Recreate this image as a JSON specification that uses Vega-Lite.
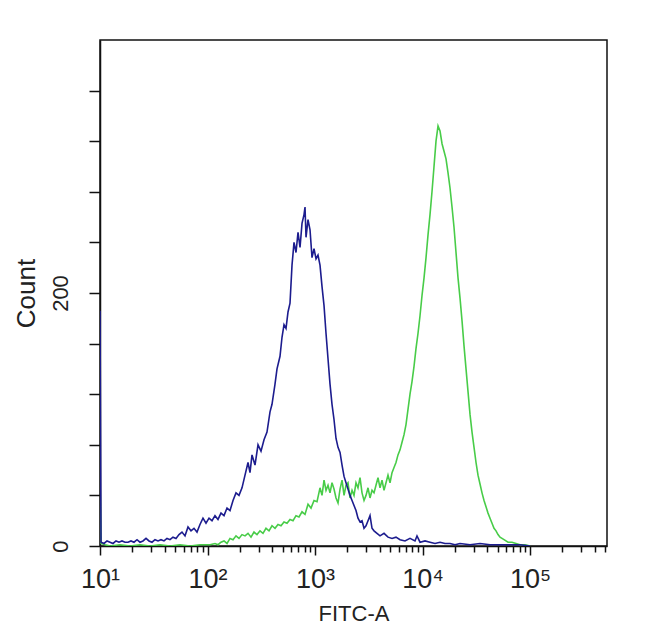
{
  "$schema": "https://vega.github.io/schema/vega-lite/v6.json",
  "autosize": "none",
  "padding": {"left": 100, "top": 40, "right": 43, "bottom": 92},
  "width": 507,
  "height": 506,
  "background": "white",
  "config": {
    "view": {"stroke": "#111", "strokeWidth": 1.5},
    "axis": {"labelFont": "Liberation Sans", "titleFont": "Liberation Sans", "labelColor": "#222", "titleColor": "#222", "domainColor": "#111", "tickColor": "#111", "domainWidth": 1.5, "tickWidth": 1.5, "grid": false, "titleFontWeight": "normal"}
  },
  "datasets": {
    "h": [
      {"s":"g","x":10,"y":55},{"s":"g","x":10.22,"y":2},{"s":"g","x":11.13,"y":1},{"s":"g","x":12.39,"y":0},{"s":"g","x":15.35,"y":1},{"s":"g","x":19.01,"y":0},{"s":"g","x":23.55,"y":1},{"s":"g","x":29.18,"y":0},{"s":"g","x":36.14,"y":1},{"s":"g","x":44.77,"y":0},{"s":"g","x":55.46,"y":1},{"s":"g","x":68.71,"y":0},{"s":"g","x":85.11,"y":1},{"s":"g","x":105.5,"y":1},{"s":"g","x":117.4,"y":2},{"s":"g","x":125.2,"y":1},{"s":"g","x":133.5,"y":3},{"s":"g","x":142.4,"y":4},{"s":"g","x":151.9,"y":2},{"s":"g","x":161.9,"y":6},{"s":"g","x":172.7,"y":5},{"s":"g","x":184.1,"y":8},{"s":"g","x":196.3,"y":6},{"s":"g","x":209.4,"y":9},{"s":"g","x":223.3,"y":8},{"s":"g","x":238.1,"y":10},{"s":"g","x":253.9,"y":7},{"s":"g","x":270.7,"y":11},{"s":"g","x":288.7,"y":9},{"s":"g","x":307.8,"y":12},{"s":"g","x":328.2,"y":10},{"s":"g","x":350.0,"y":14},{"s":"g","x":373.3,"y":12},{"s":"g","x":398.1,"y":16},{"s":"g","x":424.5,"y":14},{"s":"g","x":452.7,"y":17},{"s":"g","x":482.7,"y":16},{"s":"g","x":514.8,"y":19},{"s":"g","x":549.0,"y":18},{"s":"g","x":585.4,"y":21},{"s":"g","x":624.3,"y":20},{"s":"g","x":665.7,"y":24},{"s":"g","x":709.9,"y":23},{"s":"g","x":757.0,"y":27},{"s":"g","x":807.2,"y":25},{"s":"g","x":860.8,"y":33},{"s":"g","x":917.9,"y":30},{"s":"g","x":978.9,"y":36},{"s":"g","x":1044,"y":35},{"s":"g","x":1113,"y":46},{"s":"g","x":1162,"y":40},{"s":"g","x":1213,"y":52},{"s":"g","x":1266,"y":44},{"s":"g","x":1321,"y":48},{"s":"g","x":1379,"y":42},{"s":"g","x":1439,"y":50},{"s":"g","x":1502,"y":45},{"s":"g","x":1568,"y":38},{"s":"g","x":1637,"y":34},{"s":"g","x":1709,"y":45},{"s":"g","x":1784,"y":52},{"s":"g","x":1862,"y":40},{"s":"g","x":1942,"y":48},{"s":"g","x":2027,"y":50},{"s":"g","x":2117,"y":38},{"s":"g","x":2210,"y":44},{"s":"g","x":2306,"y":40},{"s":"g","x":2406,"y":50},{"s":"g","x":2511,"y":46},{"s":"g","x":2622,"y":54},{"s":"g","x":2737,"y":42},{"s":"g","x":2857,"y":36},{"s":"g","x":2981,"y":40},{"s":"g","x":3112,"y":46},{"s":"g","x":3248,"y":38},{"s":"g","x":3390,"y":44},{"s":"g","x":3539,"y":42},{"s":"g","x":3692,"y":48},{"s":"g","x":3854,"y":54},{"s":"g","x":4024,"y":46},{"s":"g","x":4200,"y":52},{"s":"g","x":4384,"y":44},{"s":"g","x":4574,"y":50},{"s":"g","x":4774,"y":56},{"s":"g","x":4986,"y":50},{"s":"g","x":5204,"y":58},{"s":"g","x":5432,"y":62},{"s":"g","x":5666,"y":66},{"s":"g","x":5914,"y":72},{"s":"g","x":6177,"y":76},{"s":"g","x":6447,"y":82},{"s":"g","x":6730,"y":88},{"s":"g","x":7020,"y":96},{"s":"g","x":7327,"y":108},{"s":"g","x":7650,"y":120},{"s":"g","x":7985,"y":130},{"s":"g","x":8335,"y":142},{"s":"g","x":8695,"y":156},{"s":"g","x":9076,"y":168},{"s":"g","x":9478,"y":182},{"s":"g","x":9893,"y":198},{"s":"g","x":10330,"y":212},{"s":"g","x":10780,"y":228},{"s":"g","x":11250,"y":246},{"s":"g","x":11740,"y":262},{"s":"g","x":12250,"y":280},{"s":"g","x":12790,"y":300},{"s":"g","x":13350,"y":320},{"s":"g","x":13940,"y":332},{"s":"g","x":14550,"y":328},{"s":"g","x":15190,"y":318},{"s":"g","x":15850,"y":312},{"s":"g","x":16540,"y":306},{"s":"g","x":17270,"y":295},{"s":"g","x":18020,"y":283},{"s":"g","x":18810,"y":268},{"s":"g","x":19630,"y":252},{"s":"g","x":20490,"y":232},{"s":"g","x":21390,"y":212},{"s":"g","x":22330,"y":196},{"s":"g","x":23310,"y":178},{"s":"g","x":24330,"y":158},{"s":"g","x":25390,"y":140},{"s":"g","x":26500,"y":122},{"s":"g","x":27660,"y":104},{"s":"g","x":28870,"y":90},{"s":"g","x":30140,"y":78},{"s":"g","x":31450,"y":66},{"s":"g","x":32820,"y":56},{"s":"g","x":34260,"y":49},{"s":"g","x":35760,"y":42},{"s":"g","x":37330,"y":36},{"s":"g","x":38970,"y":31},{"s":"g","x":40670,"y":26},{"s":"g","x":42450,"y":22},{"s":"g","x":44310,"y":18},{"s":"g","x":46250,"y":14},{"s":"g","x":48270,"y":12},{"s":"g","x":50390,"y":9},{"s":"g","x":52600,"y":7},{"s":"g","x":57310,"y":5},{"s":"g","x":62430,"y":3},{"s":"g","x":68010,"y":3},{"s":"g","x":74100,"y":2},{"s":"g","x":80720,"y":1},{"s":"g","x":89850,"y":1},{"s":"g","x":100000,"y":0},
      {"s":"b","x":10,"y":186},{"s":"b","x":10.22,"y":3},{"s":"b","x":10.9,"y":2},{"s":"b","x":11.62,"y":4},{"s":"b","x":12.39,"y":3},{"s":"b","x":13.21,"y":2},{"s":"b","x":14.09,"y":4},{"s":"b","x":15.02,"y":3},{"s":"b","x":16.02,"y":4},{"s":"b","x":17.09,"y":3},{"s":"b","x":18.22,"y":3},{"s":"b","x":19.42,"y":4},{"s":"b","x":20.71,"y":3},{"s":"b","x":22.10,"y":5},{"s":"b","x":23.55,"y":3},{"s":"b","x":25.11,"y":4},{"s":"b","x":26.79,"y":6},{"s":"b","x":28.57,"y":4},{"s":"b","x":30.46,"y":3},{"s":"b","x":32.48,"y":5},{"s":"b","x":34.64,"y":4},{"s":"b","x":36.92,"y":5},{"s":"b","x":39.38,"y":4},{"s":"b","x":42.0,"y":6},{"s":"b","x":44.77,"y":5},{"s":"b","x":47.74,"y":7},{"s":"b","x":50.94,"y":6},{"s":"b","x":54.32,"y":9},{"s":"b","x":57.89,"y":11},{"s":"b","x":61.77,"y":8},{"s":"b","x":65.87,"y":15},{"s":"b","x":70.2,"y":12},{"s":"b","x":74.86,"y":14},{"s":"b","x":79.85,"y":11},{"s":"b","x":85.11,"y":17},{"s":"b","x":90.76,"y":22},{"s":"b","x":96.83,"y":18},{"s":"b","x":103.3,"y":22},{"s":"b","x":110.1,"y":20},{"s":"b","x":117.4,"y":24},{"s":"b","x":125.2,"y":21},{"s":"b","x":133.5,"y":26},{"s":"b","x":142.4,"y":24},{"s":"b","x":151.9,"y":30},{"s":"b","x":161.9,"y":28},{"s":"b","x":172.7,"y":36},{"s":"b","x":184.1,"y":42},{"s":"b","x":196.3,"y":40},{"s":"b","x":209.4,"y":46},{"s":"b","x":223.3,"y":56},{"s":"b","x":238.1,"y":66},{"s":"b","x":248.5,"y":58},{"s":"b","x":259.4,"y":72},{"s":"b","x":276.6,"y":64},{"s":"b","x":295.0,"y":80},{"s":"b","x":314.5,"y":75},{"s":"b","x":335.4,"y":84},{"s":"b","x":357.6,"y":90},{"s":"b","x":381.4,"y":106},{"s":"b","x":398.1,"y":112},{"s":"b","x":424.5,"y":128},{"s":"b","x":443.1,"y":140},{"s":"b","x":472.5,"y":150},{"s":"b","x":493.2,"y":165},{"s":"b","x":514.8,"y":175},{"s":"b","x":537.4,"y":172},{"s":"b","x":560.9,"y":185},{"s":"b","x":585.4,"y":192},{"s":"b","x":611.0,"y":222},{"s":"b","x":637.8,"y":240},{"s":"b","x":665.7,"y":232},{"s":"b","x":694.9,"y":248},{"s":"b","x":725.3,"y":236},{"s":"b","x":757.0,"y":255},{"s":"b","x":790.2,"y":262},{"s":"b","x":807.2,"y":268},{"s":"b","x":824.7,"y":244},{"s":"b","x":860.8,"y":258},{"s":"b","x":898.5,"y":250},{"s":"b","x":937.8,"y":228},{"s":"b","x":978.9,"y":235},{"s":"b","x":1022,"y":227},{"s":"b","x":1066,"y":230},{"s":"b","x":1113,"y":222},{"s":"b","x":1162,"y":205},{"s":"b","x":1213,"y":190},{"s":"b","x":1266,"y":168},{"s":"b","x":1321,"y":148},{"s":"b","x":1379,"y":128},{"s":"b","x":1439,"y":112},{"s":"b","x":1502,"y":100},{"s":"b","x":1568,"y":85},{"s":"b","x":1637,"y":78},{"s":"b","x":1709,"y":74},{"s":"b","x":1784,"y":64},{"s":"b","x":1862,"y":55},{"s":"b","x":1942,"y":50},{"s":"b","x":2027,"y":45},{"s":"b","x":2117,"y":40},{"s":"b","x":2210,"y":36},{"s":"b","x":2306,"y":32},{"s":"b","x":2406,"y":28},{"s":"b","x":2511,"y":22},{"s":"b","x":2622,"y":19},{"s":"b","x":2737,"y":20},{"s":"b","x":2857,"y":14},{"s":"b","x":2981,"y":16},{"s":"b","x":3112,"y":20},{"s":"b","x":3248,"y":24},{"s":"b","x":3390,"y":14},{"s":"b","x":3539,"y":12},{"s":"b","x":3772,"y":10},{"s":"b","x":4024,"y":8},{"s":"b","x":4384,"y":10},{"s":"b","x":4774,"y":7},{"s":"b","x":5204,"y":6},{"s":"b","x":5666,"y":7},{"s":"b","x":6177,"y":5},{"s":"b","x":6871,"y":4},{"s":"b","x":7650,"y":6},{"s":"b","x":8511,"y":4},{"s":"b","x":8884,"y":8},{"s":"b","x":9478,"y":3},{"s":"b","x":10550,"y":4},{"s":"b","x":11740,"y":3},{"s":"b","x":13070,"y":2},{"s":"b","x":14550,"y":3},{"s":"b","x":16190,"y":2},{"s":"b","x":18020,"y":2},{"s":"b","x":20060,"y":1},{"s":"b","x":22330,"y":2},{"s":"b","x":27660,"y":1},{"s":"b","x":34260,"y":2},{"s":"b","x":42450,"y":1},{"s":"b","x":52600,"y":1},{"s":"b","x":65160,"y":1},{"s":"b","x":80720,"y":1},{"s":"b","x":100000,"y":0}
    ]
  },
  "data": {"name": "h"},
  "mark": {"type": "line", "strokeWidth": 1.6, "interpolate": "linear", "clip": true},
  "encoding": {
    "x": {
      "field": "x", "type": "quantitative",
      "scale": {"type": "log", "domain": [10, 520000], "nice": false},
      "axis": {
        "title": "FITC-A", "titleFontSize": 22, "titlePadding": 11,
        "values": [10,20,30,40,50,60,70,80,90,100,200,300,400,500,600,700,800,900,1000,2000,3000,4000,5000,6000,7000,8000,9000,10000,20000,30000,40000,50000,60000,70000,80000,90000,100000,200000,300000,400000,500000],
        "labelExpr": "datum.value == 10 ? '10¹' : datum.value == 100 ? '10²' : datum.value == 1000 ? '10³' : datum.value == 10000 ? '10⁴' : datum.value == 100000 ? '10⁵' : ''",
        "labelFontSize": 27, "labelPadding": 11, "labelOverlap": false, "labelFlush": false,
        "tickSize": {"condition": {"test": "datum.value == 10 || datum.value == 100 || datum.value == 1000 || datum.value == 10000 || datum.value == 100000", "value": 9}, "value": 6}
      }
    },
    "y": {
      "field": "y", "type": "quantitative",
      "scale": {"domain": [0, 400], "nice": false},
      "axis": {
        "title": "Count", "titleFontSize": 26, "titlePadding": 10,
        "values": [0,40,80,120,160,200,240,280,320,360],
        "labelExpr": "datum.value == 0 ? '0' : datum.value == 200 ? '200' : ''",
        "labelAngle": 270, "labelAlign": "center", "labelBaseline": "bottom",
        "labelFontSize": 22, "labelPadding": 17, "labelOverlap": false, "tickSize": 11
      }
    },
    "color": {
      "field": "s", "type": "nominal",
      "scale": {"domain": ["g", "b"], "range": ["#48cc48", "#1c1c8e"]},
      "legend": null
    }
  }
}
